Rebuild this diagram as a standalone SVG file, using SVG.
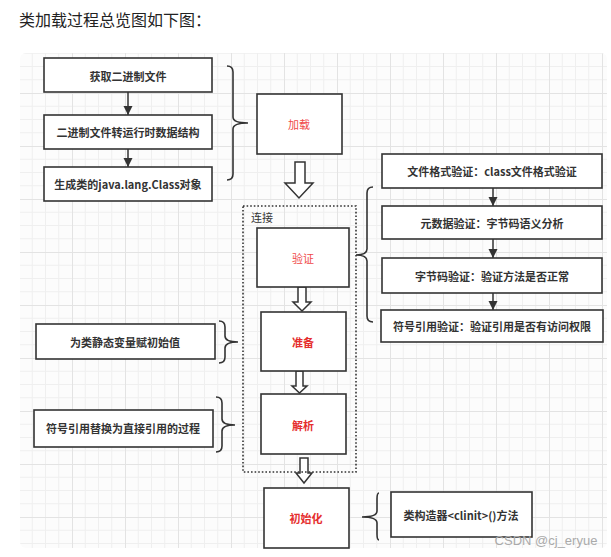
<svg xmlns="http://www.w3.org/2000/svg" width="611" height="557" viewBox="0 0 611 557">
<defs>
<pattern id="grid" patternUnits="userSpaceOnUse" x="19" y="40" width="53" height="53">
<path d="M13.25 0V53M26.5 0V53M39.75 0V53M0 13.25H53M0 26.5H53M0 39.75H53" stroke="#efefef" stroke-width="1" fill="none"/>
<path d="M0.5 0V53M0 0.5H53" stroke="#e3e3e3" stroke-width="1" fill="none"/>
</pattern>
<marker id="ah" viewBox="0 0 10 10" refX="10" refY="5" markerWidth="9" markerHeight="10" markerUnits="userSpaceOnUse" orient="auto">
<path d="M0 0L10 5L0 10z" fill="#333"/>
</marker>
<style>
.box{fill:#fff;stroke:#333;stroke-width:1.6}
.t{font-family:"Noto Sans CJK SC","Noto Sans",sans-serif;font-size:11px;fill:#333;font-weight:bold;text-anchor:middle;dominant-baseline:central}
.r{font-family:"Noto Sans CJK SC","Noto Sans",sans-serif;font-size:11px;fill:#f04848;text-anchor:middle;dominant-baseline:central}
.rb{font-weight:bold;fill:#e52e2e}
.brace{fill:none;stroke:#333;stroke-width:1.6}
.hol{fill:#fff;stroke:#333;stroke-width:1.5}
.ln{stroke:#333;stroke-width:1.5;fill:none}
</style>
</defs>
<rect width="611" height="557" fill="#fff"/>
<text x="19" y="26" font-family="'Noto Sans CJK SC',sans-serif" font-size="16" fill="#222">类加载过程总览图如下图：</text>
<rect x="20" y="53" width="587" height="495" rx="6" fill="#fcfcfc"/>
<rect x="20" y="53" width="587" height="495" rx="6" fill="url(#grid)"/>

<g id="connectors">
<line class="ln" x1="128" y1="92" x2="128" y2="115" marker-end="url(#ah)"/>
<line class="ln" x1="128" y1="149" x2="128" y2="167" marker-end="url(#ah)"/>
<line class="ln" x1="493" y1="188" x2="493" y2="206" marker-end="url(#ah)"/>
<line class="ln" x1="493" y1="239" x2="493" y2="258" marker-end="url(#ah)"/>
<line class="ln" x1="493" y1="293" x2="493" y2="310" marker-end="url(#ah)"/>
<polygon class="hol" points="295,162 305,162 305,183 313,183 299,198 285,183 295,183"/>
<polygon class="hol" points="298,287 306,287 306,302 311,302 302,311 293,302 298,302"/>
<polygon class="hol" points="296,371 303,371 303,386 307,386 299.5,393 292,386 296,386"/>
<polygon class="hol" points="300,458 308,458 308,473 312,473 304,483 296,473 300,473"/>
<path class="brace" d="M227 66Q233 66 233 72V117Q233 123 248 123Q233 123 233 129V174Q233 180 227 180"/>
<path class="brace" d="M373 187Q367 187 367 193V249Q367 255 356 255Q367 255 367 261V316Q367 322 373 322"/>
<path class="brace" d="M219 321Q225 321 225 327V336Q225 342 238 342Q225 342 225 348V357Q225 363 219 363"/>
<path class="brace" d="M216 397Q222 397 222 403V419Q222 425 235 425Q222 425 222 431V446Q222 452 216 452"/>
<path class="brace" d="M379 493Q377 493 377 499V511Q377 517 362 517Q377 517 377 523V534Q377 540 379 540"/>
</g>

<g id="n-fetch"><rect class="box" x="44" y="58" width="168" height="34"/><text class="t" x="128" y="76">获取二进制文件</text></g>
<g id="n-convert"><rect class="box" x="44" y="115" width="168" height="34"/><text class="t" x="128" y="132">二进制文件转运行时数据结构</text></g>
<g id="n-class"><rect class="box" x="44" y="167" width="168" height="34"/><text class="t" x="128" y="184">生成类的java.lang.Class对象</text></g>
<g id="n-load"><rect class="box" x="257" y="94" width="85" height="60"/><text class="r" x="299" y="124">加载</text></g>

<g id="n-link"><rect x="243" y="206" width="113" height="266" fill="none" stroke="#333" stroke-width="1.6" stroke-dasharray="1.6 2"/><text x="251" y="217" font-family="'Noto Sans CJK SC',sans-serif" font-size="11" fill="#333" dominant-baseline="central">连接</text></g>
<g id="n-verify"><rect class="box" x="257" y="228" width="92" height="59"/><text class="r" x="303" y="258">验证</text></g>
<g id="n-prepare"><rect class="box" x="261" y="312" width="85" height="59"/><text class="r rb" x="303" y="342">准备</text></g>
<g id="n-resolve"><rect class="box" x="261" y="394" width="85" height="60"/><text class="r rb" x="303" y="425">解析</text></g>
<g id="n-init"><rect class="box" x="264" y="488" width="85" height="60"/><text class="r rb" x="306" y="518">初始化</text></g>

<g id="n-v1"><rect class="box" x="382" y="154" width="220" height="34"/><text class="t" x="492" y="171">文件格式验证：class文件格式验证</text></g>
<g id="n-v2"><rect class="box" x="382" y="206" width="220" height="33"/><text class="t" x="492" y="223">元数据验证：字节码语义分析</text></g>
<g id="n-v3"><rect class="box" x="382" y="258" width="220" height="35"/><text class="t" x="492" y="276">字节码验证：验证方法是否正常</text></g>
<g id="n-v4"><rect class="box" x="381" y="310" width="222" height="32"/><text class="t" x="492" y="326">符号引用验证：验证引用是否有访问权限</text></g>

<g id="n-static"><rect class="box" x="36" y="324" width="179" height="35"/><text class="t" x="125" y="342">为类静态变量赋初始值</text></g>
<g id="n-symref"><rect class="box" x="34" y="410" width="179" height="37"/><text class="t" x="123" y="428">符号引用替换为直接引用的过程</text></g>
<g id="n-clinit"><rect class="box" x="391" y="492" width="141" height="45"/><text class="t" x="461" y="515">类构造器&lt;clinit&gt;()方法</text></g>

<text x="546" y="545" font-family="'Liberation Sans',Arial,sans-serif" font-size="13" fill="#aaaaaa" text-anchor="middle">CSDN @cj_eryue</text>
</svg>
